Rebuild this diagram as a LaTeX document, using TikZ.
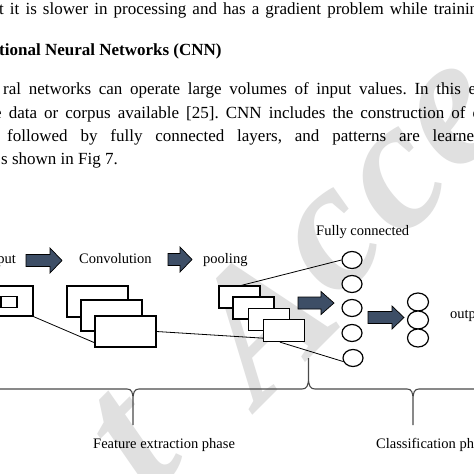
\documentclass[tikz,border=0pt]{standalone}
\usepackage{fontspec}
\setmainfont{Liberation Serif}
\usetikzlibrary{calc,shapes.geometric}
\definecolor{arrowfill}{HTML}{3D4E66}
\definecolor{bracecol}{HTML}{4A4A4A}
\newcommand\blockarr[6]{%
  \draw[barrow] (#1,#3-#5) -- (#4,#3-#5) -- (#4,#3-#6) -- (#2,#3) -- (#4,#3+#6) -- (#4,#3+#5) -- (#1,#3+#5) -- cycle;}
\tikzset{
  bodytext/.style={inner sep=0pt, anchor=base west, font=\fontsize{17}{20}\selectfont\frenchspacing},
  lbl/.style={inner sep=0pt, font=\fontsize{14.5}{17}\selectfont},
  convbox/.style={draw, fill=white, line width=1.3pt, inner sep=0pt, minimum width=61pt, minimum height=31pt},
  poolbox/.style={draw, fill=white, line width=1.3pt, inner sep=0pt, minimum width=41pt, minimum height=22pt},
  neuron/.style={ellipse, draw, fill=white, line width=1.2pt, inner sep=0pt, minimum width=20pt, minimum height=17pt},
  outneuron/.style={ellipse, draw, fill=white, line width=1.2pt, inner sep=0pt, minimum width=21pt, minimum height=18pt},
  link/.style={draw, line width=0.8pt},
  barrow/.style={draw=black, line width=0.7pt, fill=arrowfill},
  brace/.style={draw=bracecol, line width=1.1pt},
  wm/.style={inner sep=0pt, rotate=45, text=black!12, font=\fontsize{185}{185}\selectfont\bfseries\itshape}
}
\begin{document}
\begin{tikzpicture}[x=1pt,y=-1pt]
\useasboundingbox (0,0) rectangle (474,474);
\clip (0,0) rectangle (474,474);
\fill[white] (0,0) rectangle (474,474);
% watermark
\node[wm] (wm1) at (132,442) {t};
\node[wm] (wm2) at (260,322) {A};
\node[wm] (wm3) at (335,243) {c};
\node[wm] (wm4) at (400,182) {c};
\node[wm] (wm5) at (455,118) {e};
% body text
\node[bodytext] (t1) at (-1,14) {\makebox[479pt][s]{t it is slower in processing and has a gradient problem while trainin}};
\node[bodytext, font=\fontsize{17}{20}\selectfont\bfseries] (t2) at (-1,55) {tional Neural Networks (CNN)};
\node[bodytext] (t3) at (3,94) {\makebox[473pt][s]{ral networks can operate large volumes of input values. In this e}};
\node[bodytext] (t4) at (-6,118) {\makebox[486pt][s]{e data or corpus available [25]. CNN includes the construction of c}};
\node[bodytext] (t5) at (7,141) {\makebox[467pt][s]{followed by fully connected layers, and patterns are learne}};
\node[bodytext] (t6) at (1,164) {s shown in Fig 7.};
% labels
\node[lbl, anchor=base east] (linput) at (16,263) {Input};
\node[lbl, anchor=base west] (lconv) at (79,263) {Convolution};
\node[lbl, anchor=base west] (lpool) at (203,263) {pooling};
\node[lbl, anchor=base west] (lfc) at (316,235) {Fully connected};
\node[lbl, anchor=base west] (lout) at (450,318) {output};
\node[lbl, anchor=base west] (lfeat) at (93,448) {Feature extraction phase};
\node[lbl, anchor=base west] (lclass) at (376,448) {Classification phase};
% block arrows
\blockarr{26}{62}{260.5}{50}{6}{12.5}
\blockarr{168}{192}{259.5}{180}{6}{12.5}
\blockarr{298}{334}{303}{321}{6}{11.5}
\blockarr{368}{404}{317.5}{392}{6}{11.5}
% input
\node[convbox, minimum width=53pt, minimum height=30pt] (inbox) at (6.5,301) {};
\node[draw, line width=1.2pt, inner sep=0pt, minimum width=16pt, minimum height=11pt] (inner) at (9,302) {};
% convolution stack
\node[convbox] (c1) at (97.5,301.5) {};
\node[convbox] (c2) at (111.5,315.5) {};
\node[convbox] (c3) at (125.5,331.5) {};
% pooling stack
\node[poolbox] (p1) at (239.5,297) {};
\node[poolbox] (p2) at (253.5,308) {};
\node[poolbox] (p3) at (269,319.5) {};
\node[poolbox] (p4) at (284,330.5) {};
% fully connected
\node[neuron] (f1) at (352,260) {};
\node[neuron] (f2) at (352,284) {};
\node[neuron] (f3) at (352,308) {};
\node[neuron] (f4) at (352,333) {};
\node[neuron] (f5) at (353,358) {};
% output
\node[outneuron] (o1) at (418,302) {};
\node[outneuron] (o2) at (418,320) {};
\node[outneuron] (o3) at (418,338) {};
% connectors
\draw[link] (inbox.south east) -- ($(c3.south west)+(0,-5)$);
\draw[link] (c3.east) -- ($(p4.south west)+(0,-4)$);
\draw[link] ($(p1.north)+(2,0)$) -- (f1.west);
\draw[link] ($(p4.south)+(-4,0)$) -- (f5.200);
% braces
\draw[brace] (-5,389) -- (127,389) .. controls (131.5,389) and (133,392) .. (133,400) -- (133,425)
  -- (133,400) .. controls (133,392) and (134.5,389) .. (139,389) -- (302,389)
  .. controls (306.5,389) and (308.5,386) .. (308.5,378) -- (308.5,358)
  -- (308.5,378) .. controls (308.5,386) and (310.5,389) .. (315,389) -- (407,389)
  .. controls (411.5,389) and (413,392) .. (413,400) -- (413,425)
  -- (413,400) .. controls (413,392) and (414.5,389) .. (419,389) -- (480,389);
\end{tikzpicture}
\end{document}
